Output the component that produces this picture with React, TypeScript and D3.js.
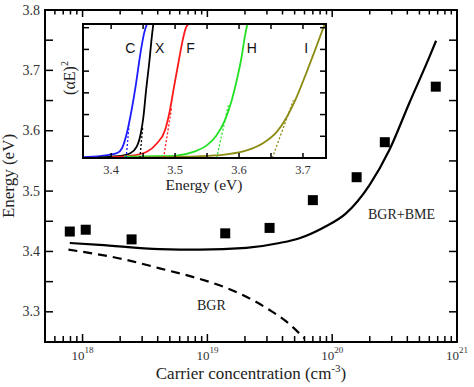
import React from "react";
import * as d3 from "d3";

const width = 474;
const height = 387;

// main panel: measured band gap vs carrier concentration
const expConc = [7.9e17, 1.06e18, 2.47e18, 1.39e19, 3.15e19, 7.0e19, 1.57e20, 2.64e20, 6.76e20];
const expEnergy = [3.433, 3.436, 3.42, 3.43, 3.439, 3.485, 3.523, 3.581, 3.673];

// BGR+BME model (solid)
const bmeConc = [7.9e17, 1.37e18, 4.15e18, 8.7e18, 2.05e19, 3.79e19, 5.47e19, 8.4e19, 1.29e20, 1.99e20, 2.87e20, 4.15e20, 6.0e20, 6.8e20];
const bmeEnergy = [3.414, 3.411, 3.404, 3.403, 3.406, 3.414, 3.422, 3.439, 3.463, 3.51, 3.568, 3.646, 3.722, 3.749];

// BGR only (dashed)
const bgrConc = [7.7e17, 2.25e18, 4.15e18, 8.2e18, 1.33e19, 2.05e19, 3.15e19, 4.28e19, 6.0e19];
const bgrEnergy = [3.403, 3.386, 3.372, 3.356, 3.342, 3.325, 3.303, 3.284, 3.256];

const yMajor = [3.3, 3.4, 3.5, 3.6, 3.7, 3.8];
const yMinor = [3.35, 3.45, 3.55, 3.65, 3.75];
const xDecades = [18, 19, 20, 21];

// inset: (alpha E)^2 vs photon energy, [E, value]
const curveC: [number, number][] = [[3.356, 0.04], [3.383, 0.09], [3.409, 0.22], [3.417, 0.45], [3.4245, 1.14], [3.432, 2.21], [3.439, 3.44], [3.445, 4.67], [3.4516, 5.75], [3.4558, 6.17]];
const curveX: [number, number][] = [[3.38, 0.03], [3.41, 0.08], [3.43, 0.22], [3.44, 0.52], [3.4464, 1.14], [3.4505, 1.9], [3.4547, 3.13], [3.46, 4.5], [3.4636, 5.58], [3.466, 6.17]];
const curveF: [number, number][] = [[3.4, 0.04], [3.43, 0.1], [3.4558, 0.29], [3.4714, 0.67], [3.4844, 1.29], [3.492, 2.21], [3.4984, 3.29], [3.505, 4.35], [3.512, 5.44], [3.517, 6.0], [3.521, 6.17]];
const curveH: [number, number][] = [[3.42, 0.06], [3.47, 0.08], [3.5026, 0.11], [3.5286, 0.28], [3.5495, 0.58], [3.565, 1.05], [3.578, 1.74], [3.5886, 2.66], [3.5964, 3.58], [3.604, 4.65], [3.609, 5.58], [3.613, 6.17]];
const curveI: [number, number][] = [[3.43, 0.02], [3.5, 0.05], [3.55, 0.1], [3.581, 0.17], [3.612, 0.35], [3.638, 0.69], [3.659, 1.2], [3.675, 1.9], [3.69, 2.8], [3.705, 3.9], [3.718, 4.9], [3.734, 6.17]];

// linear fits (dotted) to the absorption edges
const fitC: [number, number][] = [[3.4235, 0], [3.428, 1.5]];
const fitX: [number, number][] = [[3.445, 0], [3.4495, 1.45]];
const fitF: [number, number][] = [[3.482, 0], [3.4948, 2.35]];
const fitH: [number, number][] = [[3.565, 0], [3.5833, 2.43]];
const fitI: [number, number][] = [[3.652, 0], [3.685, 2.66]];

const sampleNames = ["C", "X", "F", "H", "I"];
const sampleLabelE = [3.43, 3.476, 3.524, 3.62, 3.705];
const sampleColors = ["#1d1dff", "#000000", "#ff1a1a", "#22e022", "#8c8c14"];

const serif = "'Liberation Serif', 'Times New Roman', serif";
const sans = "'Liberation Sans', Arial, sans-serif";

export default function App() {
  const m = { left: 45, right: 457, top: 10, bottom: 342 };
  const x = d3.scaleLog().domain([5e17, 1e21]).range([m.left, m.right]);
  const y = d3.scaleLinear().domain([3.25, 3.8]).range([m.bottom, m.top]);

  const xMinor: number[] = [];
  for (let e = 17; e <= 20; e++) {
    for (let k = 2; k <= 9; k++) {
      const v = k * Math.pow(10, e);
      if (v > 5e17 && v < 1e21) xMinor.push(v);
    }
  }

  const line = d3
    .line<[number, number]>()
    .x(d => x(d[0]))
    .y(d => y(d[1]))
    .curve(d3.curveMonotoneX);

  const bme = bmeConc.map((c, i) => [c, bmeEnergy[i]] as [number, number]);
  const bgr = bgrConc.map((c, i) => [c, bgrEnergy[i]] as [number, number]);

  // inset
  const ib = { left: 83, right: 326, top: 24, bottom: 158 };
  const ix = d3.scaleLinear().domain([3.356, 3.736]).range([ib.left, ib.right]);
  const iy = d3.scaleLinear().domain([0, 6.17]).range([ib.bottom, ib.top]);
  const iline = d3
    .line<[number, number]>()
    .x(d => ix(d[0]))
    .y(d => iy(d[1]))
    .curve(d3.curveMonotoneX);
  const ixTicks = ix.ticks(8);
  const iyTicks = [1, 2, 3, 4, 5, 6];
  const curves = [curveC, curveX, curveF, curveH, curveI];
  const fits = [fitC, fitX, fitF, fitH, fitI];

  return (
    <svg
      width={width}
      height={height}
      style={{ position: "absolute", left: 0, top: 0, background: "#fff" }}
    >
      <defs>
        <clipPath id="insetClip">
          <rect x={ib.left} y={ib.top} width={ib.right - ib.left} height={ib.bottom - ib.top} />
        </clipPath>
      </defs>

      {/* main ticks */}
      <g stroke="#000" strokeWidth={1.5}>
        {xDecades.map(e => {
          const px = x(Math.pow(10, e));
          return (
            <g key={"xd" + e}>
              <line x1={px} x2={px} y1={m.bottom} y2={m.bottom - 8} />
              <line x1={px} x2={px} y1={m.top} y2={m.top + 7} />
            </g>
          );
        })}
        {xMinor.map(v => (
          <g key={"xm" + v}>
            <line x1={x(v)} x2={x(v)} y1={m.bottom} y2={m.bottom - 6} />
            <line x1={x(v)} x2={x(v)} y1={m.top} y2={m.top + 4.5} />
          </g>
        ))}
        {yMajor.concat(yMinor).map(v => (
          <g key={"y" + v}>
            <line x1={m.left} x2={m.left + 8} y1={y(v)} y2={y(v)} />
            <line x1={m.right} x2={m.right - 8} y1={y(v)} y2={y(v)} />
          </g>
        ))}
      </g>

      {/* main tick labels */}
      <g fontFamily={serif} fontSize={14} fill="#333">
        {yMajor.map(v => (
          <text key={"yl" + v} x={m.left - 5} y={y(v)} textAnchor="end" dominantBaseline="central">
            {v.toFixed(1)}
          </text>
        ))}
        {xDecades.map(e => (
          <text key={"xl" + e} x={x(Math.pow(10, e))} y={360} textAnchor="middle" fontSize={13}>
            10
            <tspan dy={-7} fontSize={9}>
              {e}
            </tspan>
          </text>
        ))}
      </g>

      {/* axis titles */}
      <text x={251} y={379} textAnchor="middle" fontFamily={serif} fontSize={17} fill="#222">
        Carrier concentration (cm
        <tspan dy={-7} fontSize={11}>-3</tspan>
        <tspan dy={7}>)</tspan>
      </text>
      <text
        transform="translate(14,176) rotate(-90)"
        textAnchor="middle"
        fontFamily={serif}
        fontSize={17}
        fill="#222"
      >
        Energy (eV)
      </text>

      {/* model curves */}
      <path d={line(bme) || ""} fill="none" stroke="#000" strokeWidth={2.2} />
      <path d={line(bgr) || ""} fill="none" stroke="#000" strokeWidth={2.2} strokeDasharray="9,6" />

      {/* measured points */}
      {expConc.map((c, i) => (
        <rect key={"p" + i} x={x(c) - 5} y={y(expEnergy[i]) - 5} width={10} height={10} fill="#000" />
      ))}

      <text x={368} y={219} fontFamily={serif} fontSize={14} fill="#222">
        BGR+BME
      </text>
      <text x={197} y={310} fontFamily={serif} fontSize={14} fill="#222">
        BGR
      </text>

      {/* main frame */}
      <rect x={m.left} y={m.top} width={m.right - m.left} height={m.bottom - m.top} fill="none" stroke="#000" strokeWidth={2} />

      {/* inset */}
      <rect x={ib.left} y={ib.top} width={ib.right - ib.left} height={ib.bottom - ib.top} fill="#fff" />
      <g clipPath="url(#insetClip)">
        {curves.map((c, i) => (
          <path key={"c" + i} d={iline(c) || ""} fill="none" stroke={sampleColors[i]} strokeWidth={1.8} />
        ))}
        {fits.map((f, i) => (
          <path key={"f" + i} d={iline(f) || ""} fill="none" stroke={sampleColors[i]} strokeWidth={1.3} strokeDasharray="2,2" />
        ))}
      </g>
      <g stroke="#000" strokeWidth={1.5}>
        {ixTicks.map(t => (
          <g key={"ix" + t}>
            <line x1={ix(t)} x2={ix(t)} y1={ib.bottom} y2={ib.bottom - 5} />
            <line x1={ix(t)} x2={ix(t)} y1={ib.top} y2={ib.top + 5} />
          </g>
        ))}
        {iyTicks.map(t => (
          <g key={"iy" + t}>
            <line x1={ib.left} x2={ib.left + 6} y1={iy(t)} y2={iy(t)} />
            <line x1={ib.right} x2={ib.right - 6} y1={iy(t)} y2={iy(t)} />
          </g>
        ))}
      </g>
      <rect x={ib.left} y={ib.top} width={ib.right - ib.left} height={ib.bottom - ib.top} fill="none" stroke="#000" strokeWidth={2} />

      {sampleNames.map((s, i) => (
        <text key={"s" + s} x={ix(sampleLabelE[i])} y={53} textAnchor="middle" fontFamily={sans} fontSize={14} fill="#111">
          {s}
        </text>
      ))}

      <g fontFamily={serif} fontSize={12.5} fill="#333">
        {ixTicks
          .filter(t => Math.abs(t * 10 - Math.round(t * 10)) < 1e-6)
          .map(t => (
            <text key={"ixl" + t} x={ix(t)} y={174} textAnchor="middle">
              {t.toFixed(1)}
            </text>
          ))}
      </g>
      <text x={204} y={190} textAnchor="middle" fontFamily={serif} fontSize={15.5} fill="#222">
        Energy (eV)
      </text>
      <text transform="translate(75,78) rotate(-90)" textAnchor="middle" fontFamily={serif} fontSize={16} fill="#222">
        (αE)
        <tspan dy={-7} fontSize={10}>2</tspan>
      </text>
    </svg>
  );
}
